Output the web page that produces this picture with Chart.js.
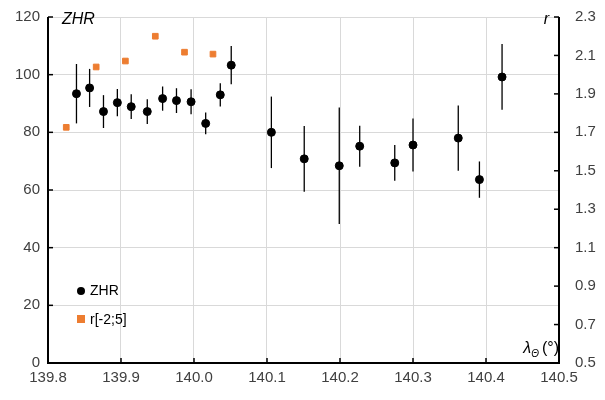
<!DOCTYPE html>
<html>
<head>
<meta charset="utf-8">
<script src="https://cdn.jsdelivr.net/npm/chart.js@4"></script>
<style>
  body { margin: 0; background: #fff; }
  #wrap { width: 605px; height: 400px; }
</style>
</head>
<body>
<div id="wrap"><canvas id="myChart"></canvas></div>
<script>
'use strict';
// ZHR points: solar longitude, value, error (+/-)
const zhrX = [139.839, 139.857, 139.876, 139.895, 139.914, 139.936, 139.957, 139.976, 139.996, 140.016, 140.036, 140.051,
    140.106, 140.151, 140.199, 140.227, 140.275, 140.300, 140.362, 140.391, 140.422];
const zhrY = [93.4, 95.4, 87.2, 90.3, 88.9, 87.2, 91.7, 91.0, 90.6, 83.1, 93.0, 103.3,
    80.0, 70.8, 68.4, 75.2, 69.4, 75.6, 78.0, 63.6, 99.2];
const zhrErr = [10.3, 6.6, 5.7, 4.7, 4.3, 4.3, 4.2, 4.3, 4.3, 3.8, 4.0, 6.6,
    12.4, 11.4, 20.2, 7.1, 6.2, 9.2, 11.3, 6.3, 11.4];
// population index r[-2;5]
const rX = [139.825, 139.866, 139.906, 139.947, 139.987, 140.026];
const rY = [1.726, 2.040, 2.071, 2.200, 2.117, 2.107];

const FONT = '"Liberation Sans", "Open Sans", sans-serif';

// error bars, axis ticks and the labels Excel puts inside the plot
const extras = {
    id: 'extras',
    beforeDatasetsDraw(chart) {
        const ctx = chart.ctx, x = chart.scales.x, y = chart.scales.y;
        ctx.save();
        ctx.strokeStyle = '#000';
        ctx.lineWidth = 1.3;
        zhrX.forEach((v, i) => {
            const px = x.getPixelForValue(v);
            ctx.beginPath();
            ctx.moveTo(px, y.getPixelForValue(zhrY[i] + zhrErr[i]));
            ctx.lineTo(px, y.getPixelForValue(zhrY[i] - zhrErr[i]));
            ctx.stroke();
        });
        ctx.restore();
    },
    afterDraw(chart) {
        const ctx = chart.ctx, a = chart.chartArea;
        const x = chart.scales.x, y = chart.scales.y, y1 = chart.scales.y1;
        ctx.save();
        ctx.strokeStyle = '#000';
        ctx.lineWidth = 2;
        ctx.beginPath();
        ctx.moveTo(a.left, a.top); ctx.lineTo(a.left, a.bottom); ctx.lineTo(a.right, a.bottom); ctx.lineTo(a.right, a.top);
        ctx.stroke();
        ctx.lineWidth = 1.5;
        y.ticks.forEach(t => {
            const py = y.getPixelForValue(t.value);
            ctx.beginPath(); ctx.moveTo(a.left, py); ctx.lineTo(a.left + 5, py); ctx.stroke();
        });
        y1.ticks.forEach(t => {
            const py = y1.getPixelForValue(t.value);
            ctx.beginPath(); ctx.moveTo(a.right, py); ctx.lineTo(a.right - 5, py); ctx.stroke();
        });
        x.ticks.forEach(t => {
            const px = x.getPixelForValue(t.value);
            ctx.beginPath(); ctx.moveTo(px, a.bottom); ctx.lineTo(px, a.bottom - 5); ctx.stroke();
        });

        ctx.fillStyle = '#000';
        ctx.font = 'italic 16px ' + FONT;
        ctx.textBaseline = 'middle';
        ctx.textAlign = 'left';
        ctx.fillText('ZHR', a.left + 14, 20);
        ctx.textAlign = 'right';
        ctx.fillText('r', a.right - 10, 20);
        // x axis title
        ctx.fillText('λ', a.right - 28, a.bottom - 14);
        ctx.font = 'italic 10px ' + FONT;
        ctx.fillText('Θ', a.right - 20, a.bottom - 9);
        ctx.font = '16px ' + FONT;
        ctx.textAlign = 'left';
        ctx.fillText('(°)', a.right - 17, a.bottom - 14);

        // legend
        ctx.font = '14px ' + FONT;
        ctx.beginPath(); ctx.arc(81, 291, 4, 0, Math.PI * 2); ctx.fill();
        ctx.fillText('ZHR', 90, 291);
        ctx.fillStyle = '#ed7d31';
        ctx.fillRect(77, 315, 8, 8);
        ctx.fillStyle = '#000';
        ctx.fillText('r[-2;5]', 90, 320);
        ctx.restore();
    }
};

new Chart(document.getElementById('myChart'), {
    type: 'scatter',
    data: {
        datasets: [{
            label: 'ZHR',
            data: zhrX.map((v, i) => ({x: v, y: zhrY[i]})),
            backgroundColor: '#000',
            borderColor: '#000',
            pointRadius: 4,
            yAxisID: 'y'
        }, {
            label: 'r[-2;5]',
            data: rX.map((v, i) => ({x: v, y: rY[i]})),
            backgroundColor: '#ed7d31',
            borderColor: '#ed7d31',
            pointStyle: 'rect',
            pointRadius: 4,
            yAxisID: 'y1'
        }]
    },
    options: {
        responsive: true,
        maintainAspectRatio: false,
        animation: false,
        layout: {padding: {top: 7, right: 0, left: 0, bottom: 0}},
        plugins: {legend: {display: false}, tooltip: {enabled: false}},
        scales: {
            x: {
                type: 'linear', min: 139.8, max: 140.5,
                ticks: {stepSize: 0.1, color: '#404040', font: {family: FONT, size: 15},
                    callback: v => v.toFixed(1), padding: 6},
                grid: {color: '#d9d9d9', drawTicks: false},
                border: {display: false},
                afterFit: s => { s.height = 37; }
            },
            y: {
                position: 'left', min: 0, max: 120,
                ticks: {stepSize: 20, color: '#404040', font: {family: FONT, size: 15}, padding: 8},
                grid: {color: '#d9d9d9', drawTicks: false},
                border: {display: false},
                afterFit: s => { s.width = 48; }
            },
            y1: {
                position: 'right', min: 0.5, max: 2.3,
                ticks: {stepSize: 0.2, color: '#404040', font: {family: FONT, size: 15}, padding: 8,
                    callback: v => Number(v.toFixed(1)).toString()},
                grid: {display: false},
                border: {display: false},
                afterFit: s => { s.width = 46; }
            }
        }
    },
    plugins: [extras]
});
</script>
</body>
</html>
